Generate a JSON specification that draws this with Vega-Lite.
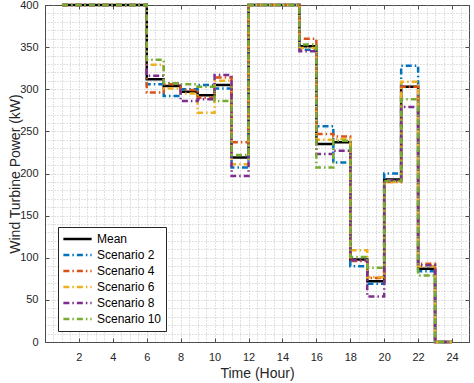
{
  "$schema": "https://vega.github.io/schema/vega-lite/v6.json",
  "width": 424,
  "height": 337,
  "autosize": {"type": "none"},
  "padding": {"left": 45, "top": 5, "right": 5, "bottom": 41},
  "background": "white",
  "config": {
    "font": "Liberation Sans",
    "view": {"stroke": "#4d4d4d", "strokeWidth": 1},
    "axis": {"labelFont": "Liberation Sans", "titleFont": "Liberation Sans", "labelColor": "#262626", "titleColor": "#262626", "titleFontWeight": "normal", "labelFontSize": 11, "titleFontSize": 14, "domainColor": "#4d4d4d", "tickColor": "#4d4d4d"},
    "legend": {"labelFont": "Liberation Sans", "labelFontSize": 12, "labelColor": "#000000"}
  },
  "data": {"values": [
    {"hour": 1, "Mean": 400, "Scenario 2": 400, "Scenario 4": 400, "Scenario 6": 400, "Scenario 8": 400, "Scenario 10": 400},
    {"hour": 2, "Mean": 400, "Scenario 2": 400, "Scenario 4": 400, "Scenario 6": 400, "Scenario 8": 400, "Scenario 10": 400},
    {"hour": 3, "Mean": 400, "Scenario 2": 400, "Scenario 4": 400, "Scenario 6": 400, "Scenario 8": 400, "Scenario 10": 400},
    {"hour": 4, "Mean": 400, "Scenario 2": 400, "Scenario 4": 400, "Scenario 6": 400, "Scenario 8": 400, "Scenario 10": 400},
    {"hour": 5, "Mean": 400, "Scenario 2": 400, "Scenario 4": 400, "Scenario 6": 400, "Scenario 8": 400, "Scenario 10": 400},
    {"hour": 6, "Mean": 312, "Scenario 2": 306, "Scenario 4": 296, "Scenario 6": 329, "Scenario 8": 316, "Scenario 10": 335},
    {"hour": 7, "Mean": 304, "Scenario 2": 292, "Scenario 4": 306, "Scenario 6": 301, "Scenario 8": 307, "Scenario 10": 307},
    {"hour": 8, "Mean": 297, "Scenario 2": 300, "Scenario 4": 299, "Scenario 6": 295, "Scenario 8": 286, "Scenario 10": 306},
    {"hour": 9, "Mean": 293, "Scenario 2": 305, "Scenario 4": 290, "Scenario 6": 272, "Scenario 8": 288, "Scenario 10": 303},
    {"hour": 10, "Mean": 305, "Scenario 2": 301, "Scenario 4": 314, "Scenario 6": 310, "Scenario 8": 317, "Scenario 10": 286},
    {"hour": 11, "Mean": 219, "Scenario 2": 207, "Scenario 4": 237, "Scenario 6": 211, "Scenario 8": 197, "Scenario 10": 222},
    {"hour": 12, "Mean": 400, "Scenario 2": 400, "Scenario 4": 400, "Scenario 6": 400, "Scenario 8": 400, "Scenario 10": 400},
    {"hour": 13, "Mean": 400, "Scenario 2": 400, "Scenario 4": 400, "Scenario 6": 400, "Scenario 8": 400, "Scenario 10": 400},
    {"hour": 14, "Mean": 400, "Scenario 2": 400, "Scenario 4": 400, "Scenario 6": 400, "Scenario 8": 400, "Scenario 10": 400},
    {"hour": 15, "Mean": 351, "Scenario 2": 347, "Scenario 4": 360, "Scenario 6": 349, "Scenario 8": 345, "Scenario 10": 353},
    {"hour": 16, "Mean": 235, "Scenario 2": 256, "Scenario 4": 247, "Scenario 6": 240, "Scenario 8": 223, "Scenario 10": 207},
    {"hour": 17, "Mean": 237, "Scenario 2": 213, "Scenario 4": 244, "Scenario 6": 241, "Scenario 8": 227, "Scenario 10": 239},
    {"hour": 18, "Mean": 98, "Scenario 2": 90, "Scenario 4": 96, "Scenario 6": 109, "Scenario 8": 97, "Scenario 10": 101},
    {"hour": 19, "Mean": 72, "Scenario 2": 69, "Scenario 4": 76, "Scenario 6": 77, "Scenario 8": 54, "Scenario 10": 88},
    {"hour": 20, "Mean": 193, "Scenario 2": 200, "Scenario 4": 190, "Scenario 6": 190, "Scenario 8": 192, "Scenario 10": 191},
    {"hour": 21, "Mean": 303, "Scenario 2": 328, "Scenario 4": 303, "Scenario 6": 309, "Scenario 8": 279, "Scenario 10": 288},
    {"hour": 22, "Mean": 87, "Scenario 2": 84, "Scenario 4": 93, "Scenario 6": 90, "Scenario 8": 91, "Scenario 10": 79},
    {"hour": 23, "Mean": 0, "Scenario 2": 0, "Scenario 4": 0, "Scenario 6": 0, "Scenario 8": 0, "Scenario 10": 0},
    {"hour": 24, "Mean": 0, "Scenario 2": 0, "Scenario 4": 0, "Scenario 6": 0, "Scenario 8": 0, "Scenario 10": 0}
  ]},
  "transform": [
    {"fold": ["Mean", "Scenario 2", "Scenario 4", "Scenario 6", "Scenario 8", "Scenario 10"], "as": ["series", "power"]}
  ],
  "layer": [
    {
      "mark": {"type": "line", "strokeOpacity": 0},
      "encoding": {
        "x": {"field": "hour", "type": "quantitative", "scale": {"domain": [0, 25], "nice": false, "zero": false},
              "axis": {"orient": "bottom", "values": [0.5,1,1.5,2,2.5,3,3.5,4,4.5,5,5.5,6,6.5,7,7.5,8,8.5,9,9.5,10,10.5,11,11.5,12,12.5,13,13.5,14,14.5,15,15.5,16,16.5,17,17.5,18,18.5,19,19.5,20,20.5,21,21.5,22,22.5,23,23.5,24,24.5],
                       "grid": true, "gridDash": [1, 2], "gridColor": "#c2c2c2", "gridWidth": 1, "labels": false, "ticks": false, "domain": false, "title": null}},
        "y": {"field": "power", "type": "quantitative", "scale": {"domain": [0, 400], "nice": false},
              "axis": {"orient": "left", "values": [10,20,30,40,50,60,70,80,90,100,110,120,130,140,150,160,170,180,190,200,210,220,230,240,250,260,270,280,290,300,310,320,330,340,350,360,370,380,390],
                       "grid": true, "gridDash": [1, 2], "gridColor": "#c2c2c2", "gridWidth": 1, "labels": false, "ticks": false, "domain": false, "title": null}},
        "detail": {"field": "series"}
      }
    },
    {
      "mark": {"type": "line", "strokeOpacity": 0},
      "encoding": {
        "x": {"field": "hour", "type": "quantitative",
              "axis": {"orient": "top", "values": [2,4,6,8,10,12,14,16,18,20,22,24], "grid": false, "labels": false, "tickSize": -4, "domain": false, "title": null}},
        "y": {"field": "power", "type": "quantitative",
              "axis": {"orient": "right", "values": [0,50,100,150,200,250,300,350,400], "grid": false, "labels": false, "tickSize": -4, "domain": false, "title": null}},
        "detail": {"field": "series"}
      }
    },
    {
      "mark": {"type": "line", "interpolate": "step-after", "strokeWidth": 2.5},
      "encoding": {
        "x": {"field": "hour", "type": "quantitative",
              "axis": {"orient": "bottom", "values": [2,4,6,8,10,12,14,16,18,20,22,24], "grid": false, "tickSize": -4, "labelPadding": 13, "title": "Time (Hour)", "titlePadding": 4}},
        "y": {"field": "power", "type": "quantitative",
              "axis": {"orient": "left", "values": [0,50,100,150,200,250,300,350,400], "grid": false, "tickSize": -4, "labelPadding": 11, "title": "Wind Turbine Power (kW)", "titlePadding": -3}},
        "color": {"field": "series", "type": "nominal",
                  "scale": {"domain": ["Mean", "Scenario 2", "Scenario 4", "Scenario 6", "Scenario 8", "Scenario 10"],
                            "range": ["#000000", "#0072BD", "#D95319", "#EDB120", "#7E2F8E", "#77AC30"]},
                  "legend": {"title": null, "orient": "none", "legendX": 13, "legendY": 222, "symbolType": "stroke", "symbolSize": 800, "symbolStrokeWidth": 2.5,
                             "clipHeight": 16, "fillColor": "white", "strokeColor": "#262626", "padding": 4, "rowPadding": 0, "labelOffset": 4}},
        "strokeDash": {"field": "series", "type": "nominal",
                  "scale": {"domain": ["Mean", "Scenario 2", "Scenario 4", "Scenario 6", "Scenario 8", "Scenario 10"],
                            "range": [[1, 0], [6, 3, 1.5, 3], [6, 3, 1.5, 3], [6, 3, 1.5, 3], [6, 3, 1.5, 3], [6, 3, 1.5, 3]]}}
      }
    }
  ],
  "resolve": {"axis": {"x": "independent", "y": "independent"}}
}
